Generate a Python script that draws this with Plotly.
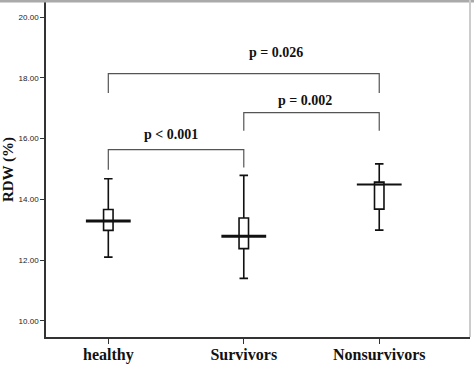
import plotly.graph_objects as go

groups = ["healthy", "Survivors", "Nonsurvivors"]
lower_whisker = [12.10, 11.40, 12.99]
q1 = [12.98, 12.38, 13.68]
median = [13.29, 12.79, 14.49]
q3 = [13.67, 13.39, 14.57]
upper_whisker = [14.68, 14.79, 15.17]

# pairwise comparisons
comp_a = ["healthy", "Survivors", "healthy"]
comp_b = ["Survivors", "Nonsurvivors", "Nonsurvivors"]
comp_top = [15.64, 16.86, 18.14]
comp_leg_a = [14.98, 16.26, 17.50]
comp_leg_b = [15.05, 16.26, 17.50]
comp_text = ["p < 0.001", "p = 0.002", "p = 0.026"]

y_ticks = [10, 12, 14, 16, 18, 20]
y_tick_text = ["10.00", "12.00", "14.00", "16.00", "18.00", "20.00"]

# label placement (layout)
label_x = [0.46, 1.45, 1.24]
label_y = [16.15, 17.25, 18.83]

fig = go.Figure()

for i, g in enumerate(groups):
    fig.add_trace(go.Box(
        x=[g], q1=[q1[i]], median=[median[i]], q3=[q3[i]],
        lowerfence=[lower_whisker[i]], upperfence=[upper_whisker[i]],
        fillcolor="white", line=dict(color="#111111", width=1.6),
        width=0.07, whiskerwidth=0.9, boxpoints=False, showlegend=False,
        hoverinfo="skip"))

med_widths = [3, 3, 2]
for i, g in enumerate(groups):
    fig.add_trace(go.Scatter(
        x=[g], y=[median[i]], mode="markers",
        marker=dict(symbol="line-ew", size=32,
                    line=dict(color="#111111", width=med_widths[i])),
        showlegend=False, hoverinfo="skip"))

for a, b, top, la, lb in zip(comp_a, comp_b, comp_top, comp_leg_a, comp_leg_b):
    fig.add_trace(go.Scatter(
        x=[a, a, b, b], y=[la, top, top, lb], mode="lines",
        line=dict(color="#555555", width=1.2),
        showlegend=False, hoverinfo="skip"))

for t, lx, ly in zip(comp_text, label_x, label_y):
    fig.add_annotation(x=lx, y=ly, text="<b>%s</b>" % t,
                       showarrow=False, xref="x", yref="y",
                       font=dict(family="Liberation Serif", size=14, color="#111111"))

# image frame (top and right gray border)
fig.add_shape(type="line", xref="paper", yref="paper", x0=-0.2, x1=1.02, y0=1.003, y1=1.003,
              line=dict(color="#aaaaaa", width=3))
fig.add_shape(type="line", xref="paper", yref="paper", x0=1.0, x1=1.0, y0=0, y1=1.01,
              line=dict(color="#cccccc", width=2))

fig.update_layout(
    width=474, height=365,
    margin=dict(l=46, r=4, t=2, b=28, autoexpand=False),
    paper_bgcolor="white", plot_bgcolor="white",
    xaxis=dict(type="category", categoryorder="array", categoryarray=groups,
               range=[-0.46, 2.67], showgrid=False, zeroline=False,
               showline=True, linecolor="#333333", linewidth=1.5,
               ticks="outside", ticklen=5, tickcolor="#333333", automargin=False,
               ticklabelstandoff=-3,
               tickvals=groups, ticktext=["<b>%s</b>" % g for g in groups],
               tickfont=dict(family="Liberation Serif", size=16, color="#111111")),
    yaxis=dict(range=[9.47, 20.50], showgrid=False, zeroline=False,
               showline=True, linecolor="#333333", linewidth=1.5,
               ticks="outside", ticklen=4, tickcolor="#333333", automargin=False,
               tickvals=y_ticks, ticktext=y_tick_text,
               tickfont=dict(family="Liberation Sans", size=8, color="#222222"),
               title=dict(text="<b>RDW (%)</b>", standoff=4,
                          font=dict(family="Liberation Serif", size=15, color="#111111"))),
)

fig.write_html("out.html", config={"displayModeBar": False},
               post_script="document.body.style.margin='0';document.body.style.overflow='hidden';")
